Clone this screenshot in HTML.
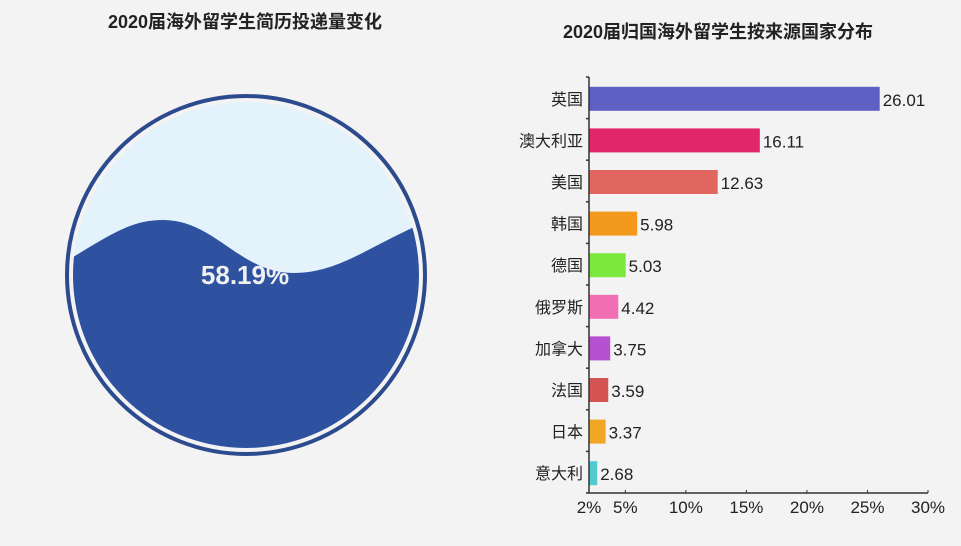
<!DOCTYPE html>
<html><head><meta charset="utf-8"><style>
html,body{margin:0;padding:0;background:#f3f3f3;}
svg{display:block;font-family:"Liberation Sans","Noto Sans CJK SC",sans-serif;}
</style></head><body>
<svg width="961" height="546" viewBox="0 0 961 546">
<rect width="961" height="546" fill="#f3f3f3"/>
<text x="245" y="28" text-anchor="middle" font-size="18" font-weight="bold" fill="#222">2020届海外留学生简历投递量变化</text>
<g>
<circle cx="246" cy="275" r="179" fill="none" stroke="#2c4b8e" stroke-width="4"/>
<clipPath id="cp"><circle cx="246" cy="275" r="173"/></clipPath>
<circle cx="246" cy="275" r="173" fill="#e4f2fb"/>
<path clip-path="url(#cp)" d="M60,265 C110,235 130,220 163,220 C215,220 240,273 293,273 C340,273 370,245 430,220 L430,460 L60,460 Z" fill="#2e529f"/>
<text x="245" y="284" text-anchor="middle" font-size="26" font-weight="bold" fill="#f0f0f0">58.19%</text>
</g>
<text x="718" y="38" text-anchor="middle" font-size="18" font-weight="bold" fill="#222">2020届归国海外留学生按来源国家分布</text>
<g id="chart"></g>
</svg>
<script>
const categories=["英国","澳大利亚","美国","韩国","德国","俄罗斯","加拿大","法国","日本","意大利"];
const values=[26.01,16.11,12.63,5.98,5.03,4.42,3.75,3.59,3.37,2.68];
const colors=["#5f5fc4","#e2266a","#e0665f","#f39a1e","#7de83c","#f26fb5","#b64fd1","#d45353","#f2a626","#52c9cc"];
const tickLabels=["2%","5%","10%","15%","20%","25%","30%"];
const tickValues=[2,5,10,15,20,25,30];
const NS="http://www.w3.org/2000/svg";
const chartG=document.getElementById('chart');
const x0=589,x1=928,yTop=77,yBottom=493;
function xs(v){return x0+(v-2)*(x1-x0)/28;}
const band=(yBottom-yTop)/categories.length;
function yc(i){return yTop+band*(i+0.5)+1;}
function mk(t,a){const e=document.createElementNS(NS,t);for(const k in a)e.setAttribute(k,a[k]);chartG.appendChild(e);return e;}
categories.forEach((c,i)=>{
  const r=mk('rect',{x:x0,y:yc(i)-12,width:Math.max(0,xs(values[i])-x0),height:24,fill:colors[i]});
  
  
  const l=mk('text',{x:x0-6,y:yc(i)+6,'text-anchor':'end','font-size':16,fill:'#222'});
  l.textContent=c;
  
  
  const v=mk('text',{x:xs(values[i])+3,y:yc(i)+7,'font-size':17,fill:'#222'});
  v.textContent=values[i].toFixed(2);
  
  
});
for(let i=0;i<=categories.length;i++){
  const t=mk('line',{x1:x0-3,x2:x0,y1:yTop+band*i,y2:yTop+band*i,stroke:'#333','stroke-width':1.5});
  
  
}
const ya=mk('line',{x1:x0,x2:x0,y1:yTop,y2:yBottom,stroke:'#333','stroke-width':1.5});


const xa=mk('line',{x1:x0,x2:x1,y1:yBottom,y2:yBottom,stroke:'#333','stroke-width':1.5});


tickValues.forEach((tv,i)=>{
  const tk=mk('line',{x1:xs(tv),x2:xs(tv),y1:yBottom-3,y2:yBottom,stroke:'#333','stroke-width':1});
  
  
  const tl=mk('text',{x:xs(tv),y:yBottom+20,'text-anchor':'middle','font-size':17,fill:'#222'});
  tl.textContent=tickLabels[i];
  
  
});
</script>
</body></html>
